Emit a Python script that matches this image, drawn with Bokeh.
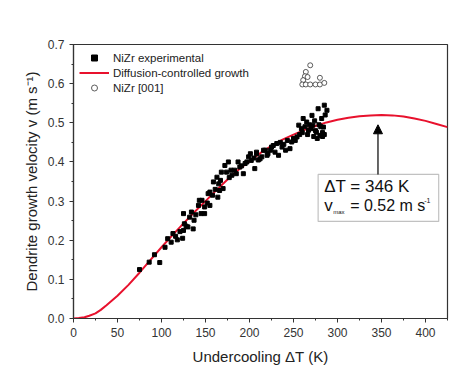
from bokeh.plotting import figure
from bokeh.models import (Range1d, SingleIntervalTicker, PrintfTickFormatter, Legend, LegendItem,
                          Label, BoxAnnotation, Arrow, NormalHead, ColumnDataSource)
from bokeh.embed import file_html
from bokeh.resources import INLINE

# ---- data ----
exp_dT = [75, 86, 92, 98, 104, 107, 111, 113, 116, 118, 121, 124, 125, 126, 125, 128, 130, 132, 134, 137,
          136, 139, 142, 143, 145, 146, 149, 149, 152, 153, 155, 155, 158, 159, 161, 163, 164, 165, 166, 167,
          168, 170, 172, 174, 176, 177, 179, 180, 183, 185, 187, 189, 191, 193, 195, 197, 199, 201, 202, 205,
          206, 208, 208, 210, 212, 214, 216, 218, 220, 221, 224, 225, 227, 229, 231, 233, 235, 237, 239, 241,
          243, 246, 248, 250, 252, 254, 256, 257, 259, 260, 261, 263, 265, 266, 267, 268, 270, 271, 272, 273,
          274, 275, 276, 277, 278, 279, 280, 281, 282, 283, 284, 285, 286, 288, 285, 283]
exp_v = [0.125, 0.144, 0.163, 0.143, 0.182, 0.204, 0.195, 0.217, 0.210, 0.201, 0.222, 0.205, 0.225, 0.242, 0.268,
         0.236, 0.234, 0.259, 0.272, 0.251, 0.229, 0.265, 0.289, 0.302, 0.268, 0.302, 0.268, 0.285, 0.295, 0.319,
         0.289, 0.323, 0.315, 0.349, 0.330, 0.361, 0.310, 0.344, 0.327, 0.353, 0.374, 0.332, 0.391, 0.374, 0.400,
         0.360, 0.379, 0.366, 0.379, 0.370, 0.400, 0.387, 0.390, 0.370, 0.396, 0.400, 0.413, 0.421, 0.404, 0.410,
         0.383, 0.421, 0.425, 0.405, 0.408, 0.413, 0.430, 0.430, 0.417, 0.421, 0.430, 0.438, 0.442, 0.425, 0.447,
         0.417, 0.450, 0.438, 0.445, 0.430, 0.455, 0.434, 0.451, 0.460, 0.455, 0.464, 0.494, 0.470, 0.485, 0.475,
         0.511, 0.490, 0.502, 0.470, 0.481, 0.495, 0.485, 0.519, 0.494, 0.465, 0.505, 0.480, 0.476, 0.460, 0.536,
         0.495, 0.468, 0.490, 0.511, 0.475, 0.489, 0.470, 0.520, 0.532, 0.545, 0.465]

dir001_dT = [269, 264, 263, 266, 261, 260, 264, 269, 275, 280, 280, 285]
dir001_v = [0.647, 0.630, 0.619, 0.617, 0.609, 0.598, 0.598, 0.598, 0.598, 0.615, 0.598, 0.602]

model_dT = [0, 6, 12.5, 18, 25, 31, 37.5, 50, 62.5, 75, 87.5, 100, 112.5, 125, 137.5, 150, 162.5, 175, 187.5,
            200, 212.5, 225, 237.5, 250, 262.5, 275, 287.5, 300, 312.5, 325, 337.5, 350, 362.5, 375, 387.5,
            400, 412.5, 425]
model_v = [0.000, 0.001, 0.003, 0.007, 0.013, 0.022, 0.034, 0.058, 0.086, 0.117, 0.150, 0.182, 0.213, 0.243,
           0.272, 0.300, 0.328, 0.355, 0.380, 0.402, 0.423, 0.441, 0.457, 0.470, 0.482, 0.492, 0.501, 0.508,
           0.513, 0.517, 0.519, 0.520, 0.519, 0.516, 0.511, 0.505, 0.497, 0.489]

dT_max = 346
v_max = 0.52
arrow_tip_v = 0.495
box_left, box_right, box_bottom, box_top = 278, 415, 0.248, 0.368

FONT = "Liberation Sans"

p = figure(width=466, height=374, output_backend="svg", toolbar_location=None,
           x_range=Range1d(0, 425), y_range=Range1d(0, 0.7001),
           min_border_left=73, min_border_right=19, min_border_top=44, min_border_bottom=56)
p.grid.visible = False
p.outline_line_color = "#333333"
p.outline_line_width = 1.2
p.background_fill_color = "white"
p.border_fill_color = "white"

p.xaxis.ticker = SingleIntervalTicker(interval=50, num_minor_ticks=2)
p.yaxis.ticker = SingleIntervalTicker(interval=0.1, num_minor_ticks=2)
p.yaxis.formatter = PrintfTickFormatter(format="%.1f")
for ax in (p.xaxis[0], p.yaxis[0]):
    ax.axis_line_color = "#333333"
    ax.axis_line_width = 1.2
    ax.major_tick_line_color = "#333333"
    ax.minor_tick_line_color = "#333333"
    ax.major_tick_in = 0
    ax.major_tick_out = 4
    ax.minor_tick_in = 0
    ax.minor_tick_out = 2
    ax.major_label_text_font = FONT
    ax.major_label_text_font_size = "12px"
    ax.major_label_text_color = "#333333"
    ax.axis_label_text_font = FONT
    ax.axis_label_text_font_size = "15px"
    ax.axis_label_text_font_style = "normal"
    ax.axis_label_text_color = "#222222"
p.xaxis.major_label_standoff = 5
p.yaxis.major_label_standoff = 5
p.xaxis.axis_label_standoff = 8
p.yaxis.axis_label_standoff = 5
p.xaxis.axis_label = "Undercooling \u0394T (K)"
p.yaxis.axis_label = "Dendrite growth velocity v (m s\u207b\u00b9)"

src_exp = ColumnDataSource(dict(x=exp_dT, y=exp_v))
src_001 = ColumnDataSource(dict(x=dir001_dT, y=dir001_v))
src_mod = ColumnDataSource(dict(x=model_dT, y=model_v))

r_mod = p.line("x", "y", source=src_mod, line_color="#e8112d", line_width=2)
r_exp = p.scatter("x", "y", source=src_exp, marker="square", size=4, fill_color="black",
                  line_color="black")
r_001 = p.scatter("x", "y", source=src_001, marker="circle", size=5, fill_color="white",
                  line_color="#333333", line_width=0.8)

legend = Legend(items=[LegendItem(label="NiZr experimental", renderers=[r_exp]),
                       LegendItem(label="Diffusion-controlled growth", renderers=[r_mod]),
                       LegendItem(label="NiZr [001]", renderers=[r_001])],
                location="top_left", margin=0, padding=6, spacing=0,
                glyph_width=30, glyph_height=15, label_height=15, label_standoff=4,
                label_text_font=FONT, label_text_font_size="11.5px", label_text_color="#222222",
                background_fill_alpha=0, border_line_alpha=0)
p.add_layout(legend, "center")

# annotation box and arrow
p.add_layout(BoxAnnotation(left=box_left, right=box_right, bottom=box_bottom, top=box_top,
                           fill_color="white", fill_alpha=1, line_color="#333333", line_width=1.2,
                           level="underlay"))
p.add_layout(Arrow(end=NormalHead(size=9, fill_color="black", line_color="black"),
                   x_start=dT_max, y_start=box_top, x_end=dT_max, y_end=arrow_tip_v,
                   line_color="black", line_width=1.2))

ymid = (box_top + box_bottom) / 2
p.add_layout(Label(x=box_left, y=ymid, x_offset=6, y_offset=11, level="overlay",
                   text="\u0394T = %d K" % dT_max, text_font=FONT, text_font_size="17px",
                   text_baseline="middle", text_color="#111111"))
p.add_layout(Label(x=box_left, y=ymid, x_offset=6, y_offset=-8, level="overlay",
                   text="v", text_font=FONT, text_font_size="17px",
                   text_baseline="middle", text_color="#111111"))
p.add_layout(Label(x=box_left, y=ymid, x_offset=15, y_offset=-14, level="overlay",
                   text="max", text_font=FONT, text_font_size="6px",
                   text_baseline="middle", text_color="#111111"))
p.add_layout(Label(x=box_left, y=ymid, x_offset=32, y_offset=-8, level="overlay",
                   text="= %.2f m s" % v_max, text_font=FONT, text_font_size="16px",
                   text_baseline="middle", text_color="#111111"))
p.add_layout(Label(x=box_left, y=ymid, x_offset=106, y_offset=-3, level="overlay",
                   text="-1", text_font=FONT, text_font_size="7px",
                   text_baseline="middle", text_color="#111111"))

open("out.html", "w").write(file_html(p, INLINE))
